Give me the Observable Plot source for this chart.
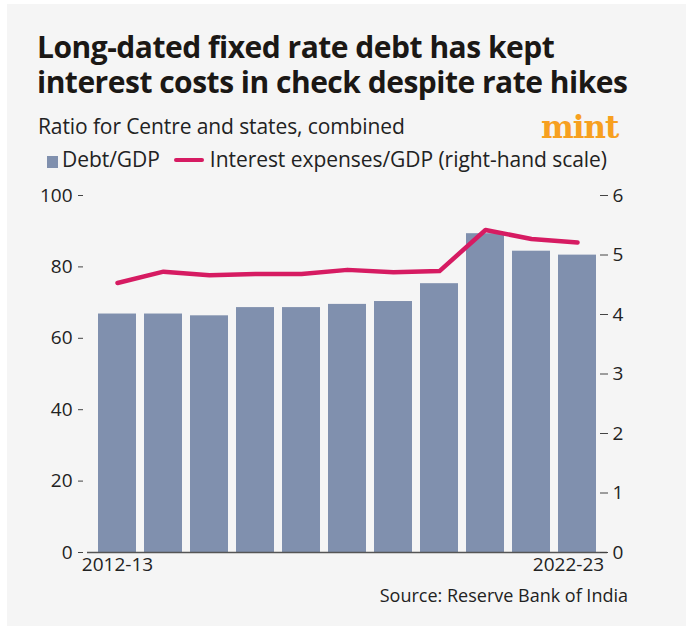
<!DOCTYPE html>
<html>
<head>
<meta charset="utf-8">
<script src="https://cdn.jsdelivr.net/npm/d3@7"></script>
<script src="https://cdn.jsdelivr.net/npm/@observablehq/plot@0.6"></script>
<style>
  html, body { margin: 0; padding: 0; background: #ffffff; }
  body { width: 692px; height: 632px; position: relative; overflow: hidden; font-family: "Open Sans", sans-serif; }
  #panel { position: absolute; left: 7px; top: 4px; width: 679px; height: 622px; background: #f5f5f5; }
  .abs { position: absolute; white-space: nowrap; }
  .title { left: 37px; font-weight: 700; font-size: 30px; line-height: 34px; color: #1b1815; letter-spacing: -0.5px; }
  #title1 { top: 30px; }
  #title2 { top: 65px; }
  #subtitle { left: 38px; top: 112px; font-size: 21px; line-height: 28px; color: #222; letter-spacing: -0.1px; }
  #logo { left: 541px; top: 109px; font-family: "DejaVu Serif", serif; font-weight: 700; font-size: 31px; line-height: 36px; color: #f7a01f; letter-spacing: -1px; }
  #legend { left: 47px; top: 145px; font-size: 21px; line-height: 28px; color: #222; letter-spacing: -0.05px; }
  .sw-bar { display: inline-block; width: 11px; height: 12px; background: #8090ae; margin-right: 4px; vertical-align: -1px; }
  .sw-line { display: inline-block; width: 30px; height: 4px; border-radius: 2px; background: #d61b62; margin: 0 6px 0 14px; vertical-align: 5px; }
  #chart { left: 0; top: 180px; }
  #source { right: 64px; top: 583px; font-size: 18px; line-height: 24px; color: #222; }
</style>
</head>
<body>
<div id="panel"></div>
<div id="title1" class="abs title">Long-dated fixed rate debt has kept</div>
<div id="title2" class="abs title">interest costs in check despite rate hikes</div>
<div id="subtitle" class="abs">Ratio for Centre and states, combined</div>
<div id="logo" class="abs">mint</div>
<div id="legend" class="abs"><span class="sw-bar"></span>Debt/GDP<span class="sw-line"></span>Interest expenses/GDP (right-hand scale)</div>
<div id="chart" class="abs"></div>
<div id="source" class="abs">Source: Reserve Bank of India</div>
<script>
// Fiscal years, Centre and states combined
const years = ["2012-13", "2013-14", "2014-15", "2015-16", "2016-17", "2017-18",
               "2018-19", "2019-20", "2020-21", "2021-22", "2022-23"];
// Debt as % of GDP (left scale)
const debtGDP = [66.8, 66.8, 66.3, 68.6, 68.6, 69.5, 70.3, 75.3, 89.3, 84.4, 83.3];
// Interest expenses as % of GDP (right scale)
const interestGDP = [4.53, 4.72, 4.66, 4.68, 4.68, 4.75, 4.71, 4.73, 5.42, 5.27, 5.21];

const leftTicks = [0, 20, 40, 60, 80, 100];
const rightTicks = [0, 1, 2, 3, 4, 5, 6];
const xLabels = ["2012-13", "2022-23"];

// right-hand values are drawn on the left scale: 6 on the right lines up with 100 on the left
const k = 100 / 6;
const rows = years.map((year, i) => ({year, debt: debtGDP[i], interest: interestGDP[i] * k}));

const chart = Plot.plot({
  width: 692,
  height: 420,
  marginLeft: 96,
  marginRight: 95,
  marginTop: 15,
  marginBottom: 48,
  style: {background: "transparent", fontFamily: "Open Sans, sans-serif", fontSize: "19px", color: "#222"},
  x: {domain: years, paddingInner: 0.175, paddingOuter: 0},
  y: {domain: [0, 100]},
  marks: [
    Plot.barY(rows, {x: "year", y: "debt", fill: "#8090ae"}),
    Plot.ruleY([0], {stroke: "#555", strokeWidth: 1.6, insetLeft: -9, insetRight: -10}),
    Plot.lineY(rows, {x: "year", y: "interest", stroke: "#d61b62", strokeWidth: 4.5, strokeLinecap: "round", strokeLinejoin: "round"}),
    Plot.axisY({anchor: "left", ticks: leftTicks, tickSize: 5, tickPadding: 6, dx: -13, label: null, stroke: "#444"}),
    Plot.axisY({anchor: "right", ticks: rightTicks.map(v => v * k), tickFormat: d => Math.round(d / k), tickSize: 8, tickPadding: 5, dx: 2, label: null, stroke: "#444"}),
    Plot.axisX({ticks: xLabels.slice(0, 1), tickSize: 0, tickPadding: 5, label: null}),
    Plot.axisX({ticks: xLabels.slice(1), tickSize: 0, tickPadding: 5, dx: -9, label: null})
  ]
});
document.getElementById("chart").appendChild(chart);
</script>
</body>
</html>
